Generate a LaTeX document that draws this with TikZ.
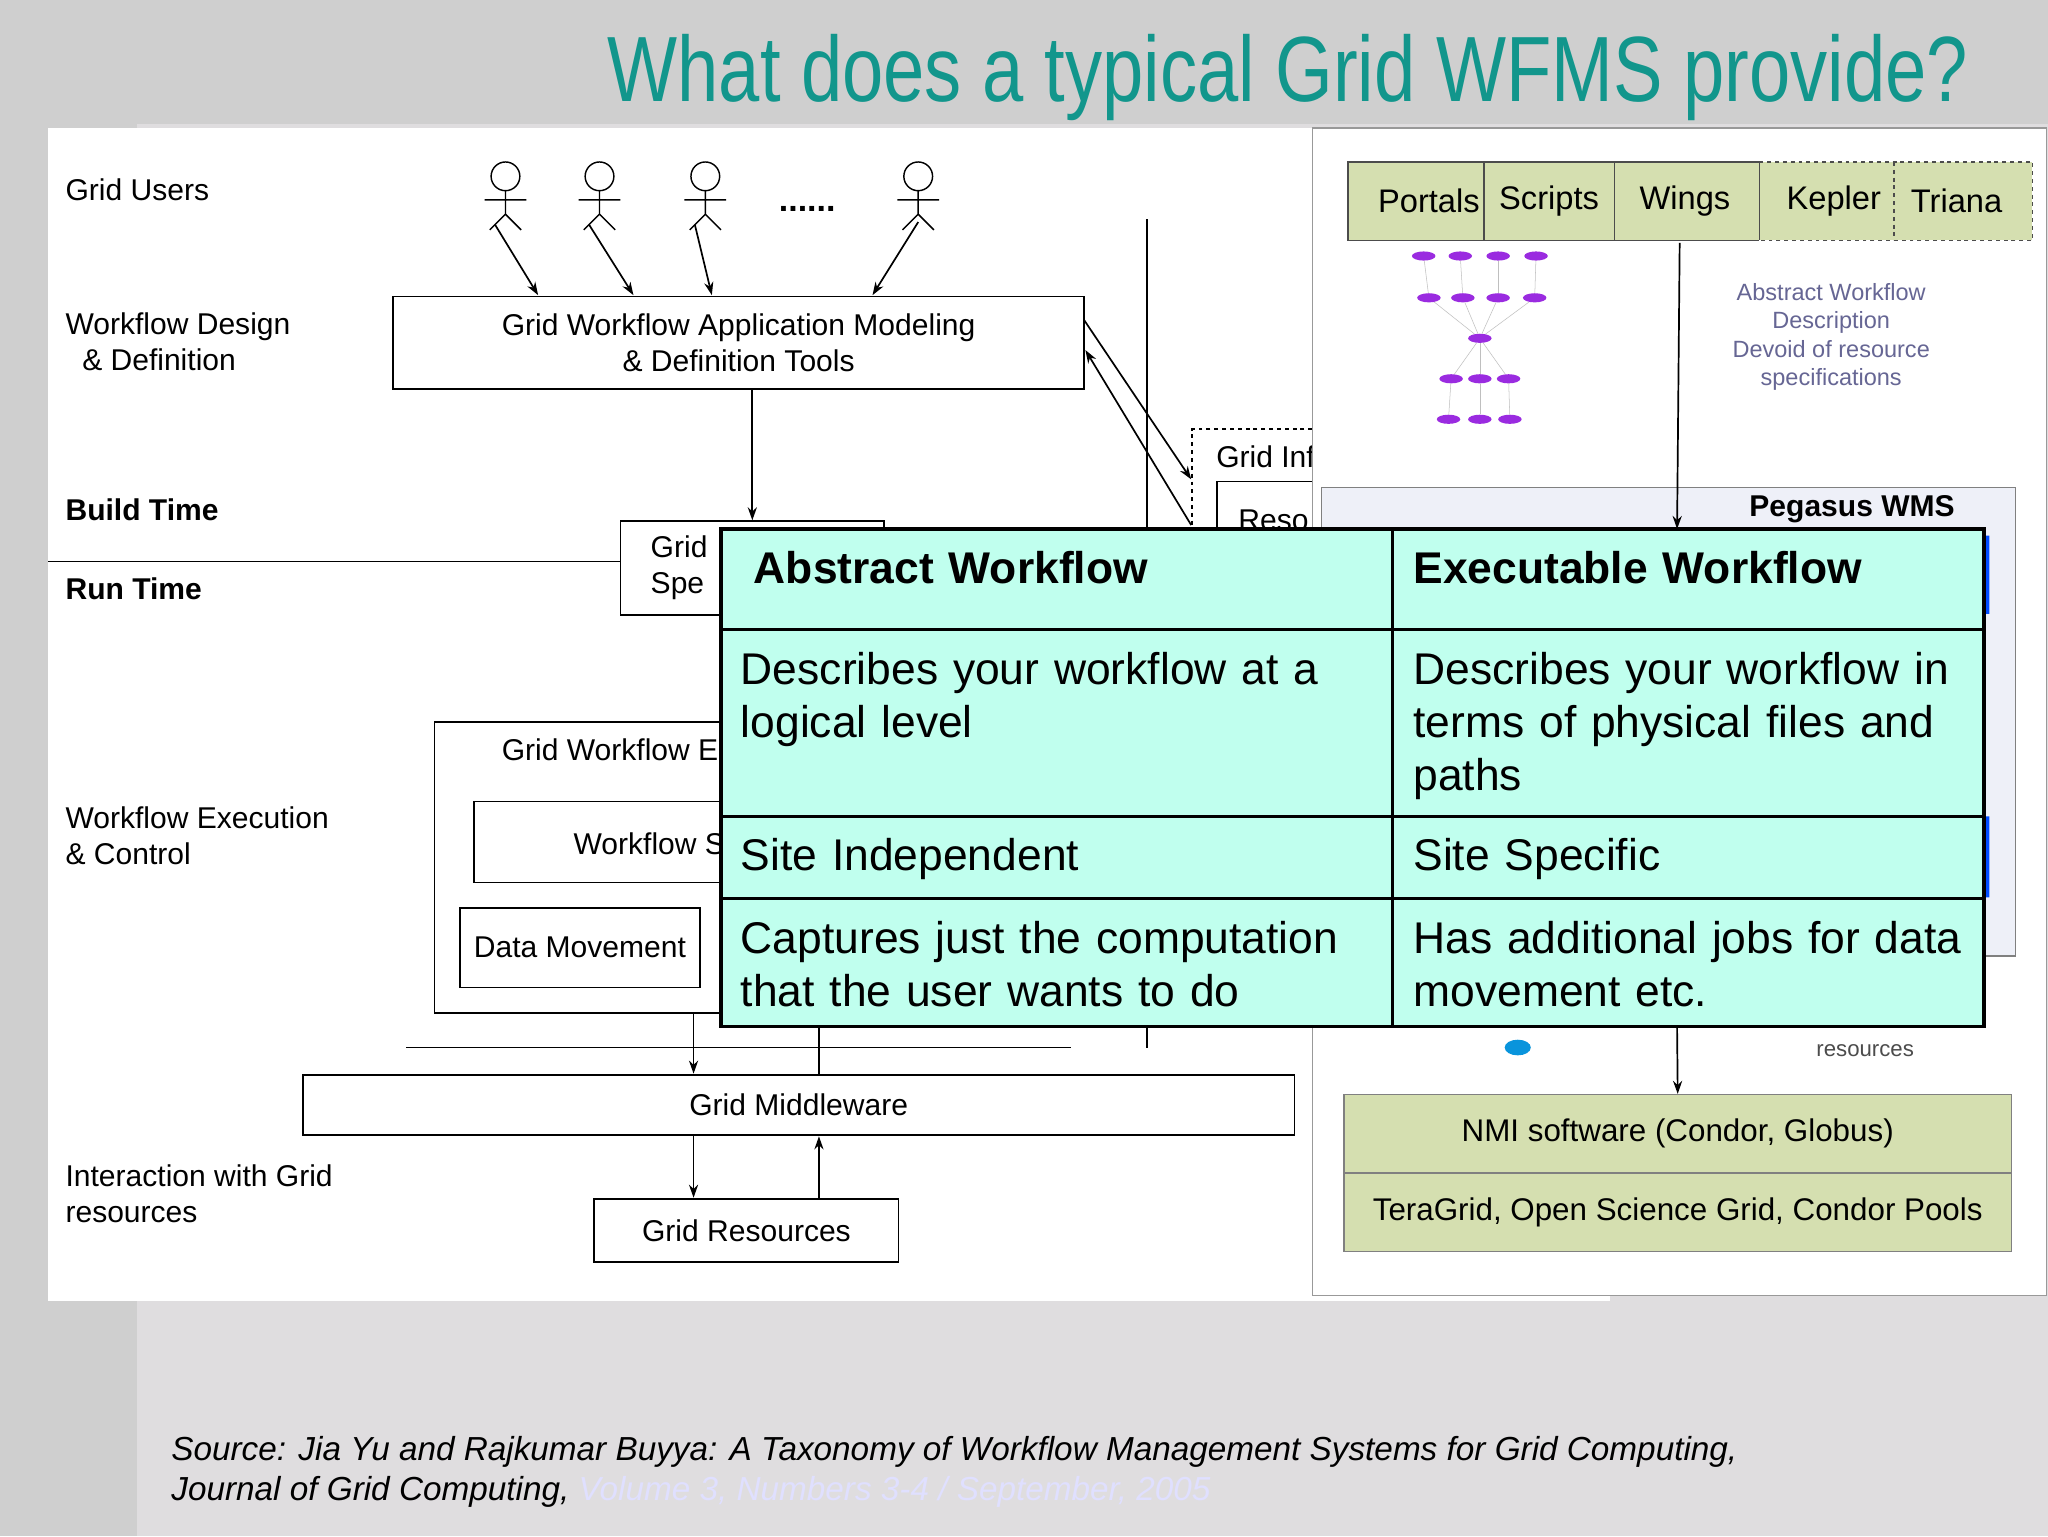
\documentclass[tikz,border=0pt]{standalone}
\usepackage{fontspec}
\setmainfont{Liberation Sans}
\usetikzlibrary{arrows.meta,shapes.geometric}
\definecolor{bgA}{HTML}{CFCFCF}
\definecolor{bgB}{HTML}{DFDDDF}
\definecolor{teal}{HTML}{12968C}
\definecolor{tbl}{HTML}{C0FFEE}
\definecolor{grn}{HTML}{D5DFB0}
\definecolor{peg}{HTML}{EEF0F8}
\definecolor{purp}{HTML}{9A2BE0}
\newcommand{\fs}[1]{\fontsize{#1}{\fpeval{1.2*#1}}\selectfont}
\begin{document}
\begin{tikzpicture}[x=1pt,y=-1pt,
  box/.style={draw,line width=1.3pt,inner sep=0pt,align=center,font=\fs{23}},
  lab/.style={anchor=west,inner sep=0pt,align=left,font=\fs{23}},
  arr/.style={line width=1.3pt,-{Stealth[length=10pt,width=7pt]}},
  ln/.style={line width=1.2pt},
  tcell/.style={anchor=north west,inner sep=0pt,align=left,text width=460pt,font=\fs{34}},
  pnode/.style={fill=purp,ellipse,minimum width=18pt,minimum height=7pt,inner sep=0pt,draw=none},
  gtxt/.style={font=\fs{25}}]
\useasboundingbox (0,0) rectangle (1568,1176);
\fill[bgA] (0,0) rectangle (1568,1176);
\fill[bgB] (105,95) rectangle (1568,1176);
\fill[white] (37,98) rectangle (1233,996);
% title
\node[text=teal,font=\fs{71},inner sep=0,anchor=base] (title) at (986,78) {\addfontfeature{FakeStretch=0.8}What does a typical Grid WFMS provide?};
% left labels
\node[lab] (l1) at (50,145) {Grid Users};
\node[lab] (l2) at (50,262) {Workflow Design\\\ \ \& Definition};
\node[lab,font=\fs{23}\bfseries] (l3) at (50,390) {Build Time};
\node[lab,font=\fs{23}\bfseries] (l4) at (50,451) {Run Time};
\node[lab] (l5) at (50,640) {Workflow Execution\\\& Control};
\node[lab] (l6) at (50,914) {Interaction with Grid\\resources};
\draw[ln] (37,430) -- (475,430);
% stick figures
\foreach \i/\x in {1/387,2/459,3/540,4/703}{
  \draw[line width=1.1pt] (\x,135) circle (11);
  \draw[line width=1.1pt] (\x,146) -- (\x,164) (\x-16,153) -- (\x+16,153) (\x,164) -- (\x-12,176) (\x,164) -- (\x+12,176);
  \coordinate (f\i) at (\x-8,172);
}
\coordinate (f4) at (703,170);
\node[font=\fs{26}\bfseries] (dots) at (618,160) {......};
\node[box,minimum width=529pt,minimum height=71pt] (model) at (565.5,262.5) {Grid Workflow Application Modeling\\\& Definition Tools};
\draw[arr] (f1) -- (412,226);
\draw[arr] (f2) -- (485,226);
\draw[arr] (f3) -- (545,226);
\draw[arr] (f4) -- (668,226);
\node[box,minimum width=202pt,minimum height=72pt] (spec) at (576,435) {};
\node[lab] at (498,435) {Grid\\Spe};
\draw[arr] (576,298) -- (spec.north);
\draw[ln] (878,168) -- (878,802);
\node[box,dashed,minimum width=120pt,minimum height=140pt,anchor=north west] (gis) at (912,328) {};
\node[lab] at (931,350) {Grid Inf};
\node[box,minimum width=100pt,minimum height=60pt,anchor=north west] (res) at (931,368) {};
\node[lab] at (948,398) {Reso};
\draw[arr] (830,245) -- (912,367);
\draw[arr] (912,402) -- (831,268);
\node[box,minimum width=260pt,minimum height=223pt,anchor=north west] (exec) at (332,552) {};
\node[lab] at (384,574) {Grid Workflow E};
\node[box,minimum width=230pt,minimum height=62pt,anchor=north west] (sched) at (362,613) {};
\node[lab] at (439,646) {Workflow S};
\node[box,minimum width=184pt,minimum height=61pt] (dm) at (444,725.5) {Data Movement};
\draw[ln] (311,802) -- (820,802);
\node[box,minimum width=759pt,minimum height=46pt] (mw) at (611.5,846) {Grid Middleware};
\draw[arr] (531,775) -- (531,822);
\draw[ln] (627,786) -- (627,823);
\node[box,minimum width=233pt,minimum height=48pt] (gr) at (571.5,942) {Grid Resources};
\draw[arr] (531,869) -- (531,917);
\draw[arr] (627,918) -- (627,870);
% right panel
\filldraw[fill=white,draw=gray!80,line width=1pt] (1005,98) rectangle (1567,992);
\fill[grn] (1032,124) rectangle (1556,184);
\draw[line width=1.2pt,draw=black!70] (1347,124) -- (1032,124) -- (1032,184) -- (1347,184);
\draw[line width=1.2pt,draw=black!70] (1136,124) -- (1136,184) (1236,124) -- (1236,184) (1347,124)--(1347,184);
\draw[line width=1.2pt,draw=black!70,dashed] (1347,124) -- (1556,124) -- (1556,184) -- (1347,184) (1450,124) -- (1450,184);
\node[gtxt] (p1) at (1094,154) {Portals};
\node[gtxt] (p2) at (1186,154) {Scripts};
\node[gtxt] (p3) at (1290,154) {Wings};
\node[gtxt] (p4) at (1404,154) {Kepler};
\node[gtxt] (p5) at (1498,154) {Triana};
% DAG
\foreach \i/\x in {1/1090,2/1118,3/1147,4/1176} \node[pnode] (a\i) at (\x,196) {};
\foreach \i/\x in {1/1094,2/1120,3/1147,4/1175} \node[pnode] (b\i) at (\x,228) {};
\node[pnode] (c) at (1133,259) {};
\foreach \i/\x in {1/1111,2/1133,3/1155} \node[pnode] (d\i) at (\x,290) {};
\foreach \i/\x in {1/1109,2/1133,3/1156} \node[pnode] (e\i) at (\x,321) {};
\foreach \i in {1,...,4} {\draw[gray!50,thin] (a\i) -- (b\i); \draw[gray!50,thin] (b\i) -- (c);}
\foreach \i in {1,2,3} {\draw[gray!50,thin] (c) -- (d\i); \draw[gray!50,thin] (d\i) -- (e\i);}
\node[font=\fs{18},text=black!70!blue!60,align=center] (awd) at (1402,258) {Abstract Workflow\\Description\\Devoid of resource\\specifications};
\filldraw[fill=peg,draw=gray,line width=1pt] (1012,373) rectangle (1543,732);
\node[font=\fs{23}\bfseries] (pg) at (1418,390) {Pegasus WMS};
\fill[blue!70!cyan] (1517,410) rectangle (1523,470) (1517,625) rectangle (1523,687);
\fill[cyan!80!blue] (1162,802) ellipse (10 and 6);
\node[font=\fs{17},text=black!70] (rs) at (1428,804) {resources};
\node[box,fill=grn,draw=black!50,line width=1pt,minimum width=511pt,minimum height=60pt,font=\fs{24}] (nmi) at (1284.5,868) {NMI software (Condor, Globus)};
\node[box,fill=grn,draw=black!50,line width=1pt,minimum width=511pt,minimum height=60pt,font=\fs{24}] (tg) at (1284.5,928) {TeraGrid, Open Science Grid, Condor Pools};
\draw[arr] (1286,186) -- (1284,405);
\draw[arr] (1284,786) -- (nmi.north);
% table
\fill[tbl] (552,405) rectangle (1519,786);
\draw[line width=2.5pt] (552,405) rectangle (1519,786);
\draw[line width=2.5pt] (552,482) -- (1519,482) (552,625) -- (1519,625) (552,688) -- (1519,688) (1066,405) -- (1066,786);
\node[tcell,font=\fs{34}\bfseries] (h1) at (577,422) {Abstract Workflow};
\node[tcell,font=\fs{34}\bfseries] (h2) at (1082,422) {Executable Workflow};
\node[tcell] (r1a) at (567,499) {Describes your workflow at a logical level};
\node[tcell] (r1b) at (1082,499) {Describes your workflow in terms of physical files and paths};
\node[tcell] (r2a) at (567,642) {Site Independent};
\node[tcell] (r2b) at (1082,642) {Site Specific};
\node[tcell] (r3a) at (567,705) {Captures just the computation that the user wants to do};
\node[tcell] (r3b) at (1082,705) {Has additional jobs for data movement etc.};
% source
\node[anchor=base west,inner sep=0,font=\fs{25.5}\itshape,align=left] (src) at (131,1118) {Source: Jia Yu and Rajkumar Buyya: A Taxonomy of Workflow Management Systems for Grid Computing,};
\node[anchor=base west,inner sep=0,font=\fs{25.5}\itshape,align=left] (src2) at (131,1149) {Journal of Grid Computing, \textcolor{blue!12}{Volume 3, Numbers 3-4 / September, 2005}};
\end{tikzpicture}
\end{document}
